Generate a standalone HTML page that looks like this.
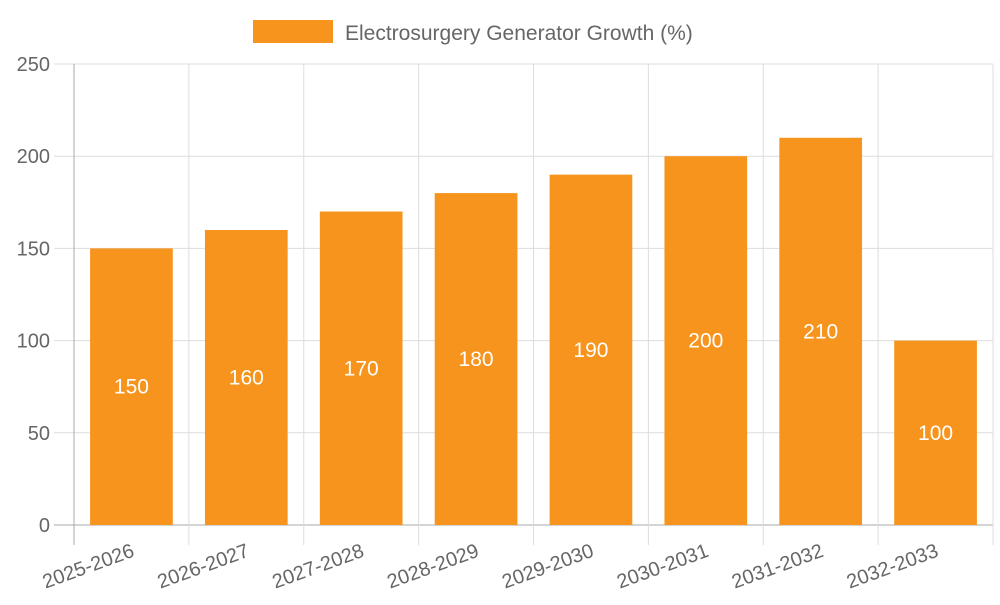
<!DOCTYPE html>
<html><head><meta charset="utf-8"><style>
body{margin:0;background:#fff;font-family:"Liberation Sans",sans-serif}
</style></head><body>
<svg id="chart" width="1000" height="600" font-family="Liberation Sans, sans-serif">
<rect x="253" y="20" width="80" height="23" fill="#f7941d"/>
<text x="345" y="40" font-size="21" fill="#666">Electrosurgery Generator Growth (%)</text>
<g id="grid"></g><g id="bars"></g><g id="labels"></g>
</svg>
<script>
const categories=["2025-2026","2026-2027","2027-2028","2028-2029","2029-2030","2030-2031","2031-2032","2032-2033"];
const values=[150,160,170,180,190,200,210,100];
const yTicks=[0,50,100,150,200,250];
const L=74,R=993,T=64,B=525,YMAX=250;
const ns="http://www.w3.org/2000/svg";
const bw=(R-L)/categories.length;
function y(v){return B-(v/YMAX)*(B-T);}
function x(i){return L+bw*i;}
function mk(tag,attrs,parent,text){const e=document.createElementNS(ns,tag);for(const k in attrs)e.setAttribute(k,attrs[k]);if(text!==undefined)e.textContent=text;document.getElementById(parent).appendChild(e);return e;}
yTicks.forEach(t=>{
 const g=mk("line",{x1:54,x2:R,y1:y(t),y2:y(t),stroke:t===0?"#aaa":"#ddd","stroke-width":1},"grid");
 
 
 const l=mk("text",{x:50,y:y(t)+7,"text-anchor":"end","font-size":20,fill:"#666"},"labels",t);
 
 
});
for(let i=0;i<=categories.length;i++){
 const g=mk("line",{x1:x(i),x2:x(i),y1:T,y2:545,stroke:i===0?"#aaa":"#ddd","stroke-width":1},"grid");
 
 
}
categories.forEach((c,i)=>{
 const cx=x(i)+bw/2, w=bw*0.72;
 const r=mk("rect",{x:cx-w/2,y:y(values[i]),width:w,height:B-y(values[i]),fill:"#f7941d"},"bars");
 
 
 const v=mk("text",{x:cx,y:(y(values[i])+B)/2+7,"text-anchor":"middle","font-size":21,fill:"#fff"},"labels",values[i]);
 
 
 const t=mk("text",{x:cx+4,y:556,"text-anchor":"end","font-size":20,fill:"#666",transform:`rotate(-20 ${cx+4} 556)`},"labels",c);
 
 
});
</script>
</body></html>
